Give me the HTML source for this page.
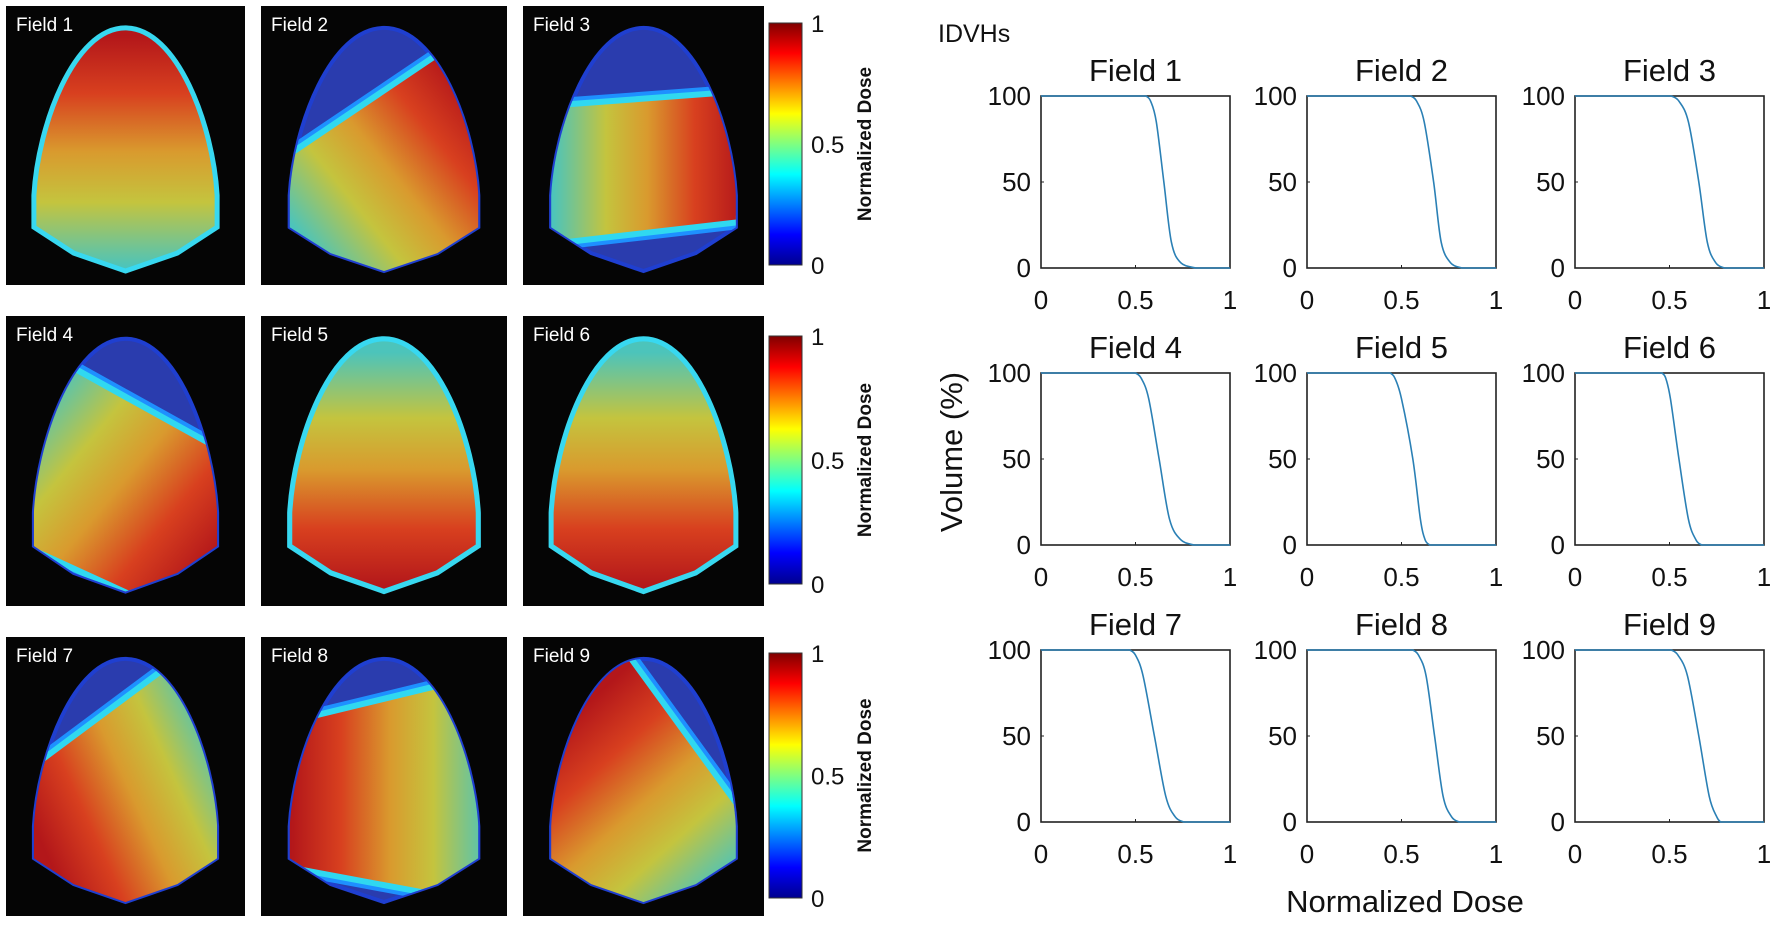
<!DOCTYPE html>
<html><head><meta charset="utf-8"><style>
html,body{margin:0;padding:0;background:#fff;}
svg{display:block;font-family:"Liberation Sans",sans-serif;}
</style></head><body>
<svg id="fig" width="1770" height="927" viewBox="0 0 1770 927" xmlns="http://www.w3.org/2000/svg">
<defs>
  <linearGradient id="jet" x1="0" y1="1" x2="0" y2="0">
    <stop offset="0" stop-color="#00008f"/><stop offset="0.125" stop-color="#0000ff"/>
    <stop offset="0.375" stop-color="#00ffff"/><stop offset="0.625" stop-color="#ffff00"/>
    <stop offset="0.875" stop-color="#ff0000"/><stop offset="1" stop-color="#800000"/>
  </linearGradient>
  <clipPath id="headclip"><path d="M120,22 C172,22 208,120 212,190 L212,222 L172,248 L120,266 L68,248 L28,222 L28,190 C32,120 68,22 120,22 Z"/></clipPath>
</defs>
<g id="maps"></g>
<g id="cbars"></g>
<text x="938" y="42" font-size="25" fill="#111">IDVHs</text>
<g id="plots"></g>
<text transform="translate(962,452) rotate(-90)" text-anchor="middle" font-size="31" fill="#111">Volume (%)</text>
<text x="1405" y="912" text-anchor="middle" font-size="31" fill="#111">Normalized Dose</text>
</svg>
<script>
// ---- IDVH data ----
const volumeLevels = [100, 97, 85, 50, 15, 3, 0];
const doseField1 = [0.555, 0.58, 0.61, 0.65, 0.69, 0.74, 0.82];
const doseField2 = [0.55, 0.58, 0.62, 0.67, 0.71, 0.76, 0.82];
const doseField3 = [0.51, 0.55, 0.60, 0.655, 0.70, 0.745, 0.79];
const doseField4 = [0.50, 0.53, 0.57, 0.625, 0.68, 0.74, 0.81];
const doseField5 = [0.44, 0.465, 0.50, 0.56, 0.60, 0.625, 0.65];
const doseField6 = [0.46, 0.48, 0.505, 0.55, 0.60, 0.64, 0.67];
const doseField7 = [0.47, 0.50, 0.54, 0.60, 0.66, 0.71, 0.755];
const doseField8 = [0.56, 0.59, 0.63, 0.675, 0.72, 0.765, 0.805];
const doseField9 = [0.51, 0.545, 0.595, 0.655, 0.71, 0.75, 0.77];
const fieldNames = ["Field 1","Field 2","Field 3","Field 4","Field 5","Field 6","Field 7","Field 8","Field 9"];
const xTickValues = [0, 0.5, 1];
const xTickLabels = ["0", "0.5", "1"];
const yTickValues = [0, 50, 100];
const yTickLabels = ["0", "50", "100"];
const cbarTickLabels = ["1", "0.5", "0"];

const NS = "http://www.w3.org/2000/svg";
function mk(tag, attrs, parent){const e=document.createElementNS(NS,tag);for(const k in attrs)e.setAttribute(k,attrs[k]);if(parent)parent.appendChild(e);return e;}

const allDoses=[doseField1,doseField2,doseField3,doseField4,doseField5,doseField6,doseField7,doseField8,doseField9];
const colX=[1041,1307,1575], rowY=[96,373,650], PW=189, PH=172;
const titleBase=[81,358,635];
const plots=document.getElementById('plots');
for(let i=0;i<9;i++){
  const r=Math.floor(i/3), c=i%3;
  const x0=colX[c], y0=rowY[r];
  const xs=d=>x0+d*PW, ys=v=>y0+PH-(v/100)*PH;
  const g=mk('g',{},plots);
  
  
  const t=mk('text',{x:x0+PW/2,y:titleBase[r],'text-anchor':'middle','font-size':31,fill:'#111'},g);
  t.textContent=fieldNames[i];
  
  
  const box=mk('rect',{x:x0,y:y0,width:PW,height:PH,fill:'none',stroke:'#222','stroke-width':1.6},g);
  
  
  yTickValues.forEach((v,k)=>{
    const yy=ys(v);
    mk('line',{x1:x0,y1:yy,x2:x0+3,y2:yy,stroke:'#222','stroke-width':1},g);
    const tl=mk('text',{x:x0-10,y:yy+9,'text-anchor':'end','font-size':26,fill:'#111'},g);
    tl.textContent=yTickLabels[k];
    
    
  });
  xTickValues.forEach((v,k)=>{
    const xx=xs(v);
    mk('line',{x1:xx,y1:y0+PH,x2:xx,y2:y0+PH-3,stroke:'#222','stroke-width':1},g);
    const tl=mk('text',{x:xx,y:y0+PH+41,'text-anchor':'middle','font-size':26,fill:'#111'},g);
    tl.textContent=xTickLabels[k];
    
    
  });
  const d=allDoses[i];
  const pts=d.map((dv,k)=>[xs(dv),ys(volumeLevels[k])]);
  let p='M'+xs(0)+','+ys(100)+' L'+pts[0][0]+','+pts[0][1];
  for(let k=0;k<pts.length-1;k++){
    const p0=pts[Math.max(0,k-1)],p1=pts[k],p2=pts[k+1],p3=pts[Math.min(pts.length-1,k+2)];
    const c1=[p1[0]+(p2[0]-p0[0])/6,p1[1]+(p2[1]-p0[1])/6];
    const c2=[p2[0]-(p3[0]-p1[0])/6,p2[1]-(p3[1]-p1[1])/6];
    p+=' C'+c1[0]+','+c1[1]+' '+c2[0]+','+c2[1]+' '+p2[0]+','+p2[1];
  }
  p+=' L'+xs(1)+','+ys(0);
  const ln=mk('path',{d:p,fill:'none',stroke:'#2b80b5','stroke-width':1.6},g);
  
  
}

// ---- dose map panels (illustrative) ----
const panelX=[[6,245],[261,507],[523,764]];
const panelY=[[6,285],[316,606],[637,916]];
const regions=[
 {poly:"M0,0H240V280H0Z",hi:[120,30],lo:[120,262]},
 {poly:"M0,168 L222,14 L240,14 L240,280 L0,280Z",hi:[222,110],lo:[50,245]},
 {poly:"M0,102 L240,84 L240,214 L0,242Z",hi:[218,150],lo:[30,150]},
 {poly:"M0,14 L240,142 L240,280 L150,280 L0,214Z",hi:[205,235],lo:[30,85]},
 {poly:"M0,0H240V280H0Z",hi:[120,262],lo:[120,35]},
 {poly:"M0,0H240V280H0Z",hi:[120,262],lo:[120,35]},
 {poly:"M0,150 L172,22 L240,22 L240,280 L0,280Z",hi:[35,205],lo:[222,120]},
 {poly:"M0,92 L240,32 L240,272 L0,226Z",hi:[30,150],lo:[222,150]},
 {poly:"M92,0 L240,205 L240,280 L0,280 L0,0Z",hi:[55,75],lo:[205,240]}
];
const maps=document.getElementById('maps');
const defs=document.querySelector('defs');
for(let i=0;i<9;i++){
  const r=Math.floor(i/3),c=i%3;
  const [xa,xb]=panelX[c],[ya,yb]=panelY[r];
  const sx=(xb-xa)/240, sy=(yb-ya)/280;
  const g=mk('g',{},maps);
  
  
  mk('rect',{x:xa,y:ya,width:xb-xa,height:yb-ya,fill:'#050505'},g);
  const gr=mk('linearGradient',{id:'dg'+i,gradientUnits:'userSpaceOnUse',x1:regions[i].hi[0],y1:regions[i].hi[1],x2:regions[i].lo[0],y2:regions[i].lo[1]},defs);
  [[0,'#b3171a'],[0.25,'#d8401f'],[0.5,'#d99a2e'],[0.72,'#c4c43e'],[1,'#4cc4bb']].forEach(s=>mk('stop',{offset:s[0],'stop-color':s[1]},gr));
  const inner=mk('g',{transform:`translate(${xa},${ya}) scale(${sx},${sy})`},g);
  mk('path',{d:"M120,22 C172,22 208,120 212,190 L212,222 L172,248 L120,266 L68,248 L28,222 L28,190 C32,120 68,22 120,22 Z",fill:'#2a3cae',stroke:'#1f3fd0','stroke-width':4},inner);
  const cl=mk('g',{'clip-path':'url(#headclip)'},inner);
  mk('path',{d:regions[i].poly,fill:'none',stroke:'#1e90ff','stroke-width':14},cl);
  mk('path',{d:regions[i].poly,fill:'url(#dg'+i+')',stroke:'#30d8f0','stroke-width':6},cl);
  if(regions[i].poly==="M0,0H240V280H0Z"){
    mk('path',{d:"M120,22 C172,22 208,120 212,190 L212,222 L172,248 L120,266 L68,248 L28,222 L28,190 C32,120 68,22 120,22 Z",fill:'none',stroke:'#38d8f0','stroke-width':5},inner);
  }
  const lb=mk('text',{x:xa+10,y:ya+25,'font-size':19,fill:'#fff'},g);
  lb.textContent=fieldNames[i];
  
  
}
// colorbars
const cbY=[[23,265],[336,584],[653,898]];
const cbars=document.getElementById('cbars');
cbY.forEach((yy,k)=>{
  const g=mk('g',{},cbars);
  
  
  mk('rect',{x:769,y:yy[0],width:33,height:yy[1]-yy[0],fill:'url(#jet)',stroke:'#333','stroke-width':1},g);
  [0,0.5,1].forEach((f,j)=>{
    const t=mk('text',{x:811,y:yy[0]+f*(yy[1]-yy[0])+9,'font-size':24,fill:'#111'},g);
    t.textContent=cbarTickLabels[j];
    
    
  });
  const cy=(yy[0]+yy[1])/2;
  const lab=mk('text',{transform:`translate(871,${cy}) rotate(-90)`,'text-anchor':'middle','font-size':19,'font-weight':'bold',fill:'#111'},g);
  lab.textContent='Normalized Dose';
  
  
});
</script>
</body></html>
